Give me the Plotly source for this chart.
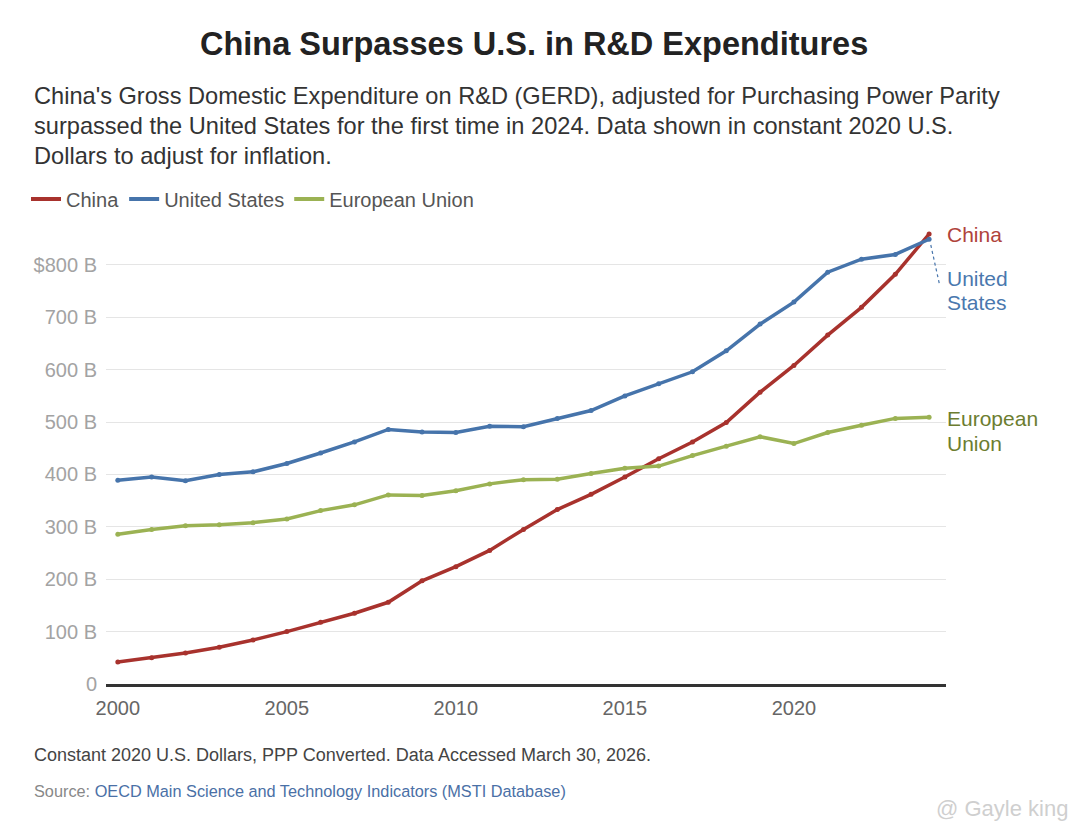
import plotly.graph_objects as go

# data (billions, constant 2020 USD, PPP)
years = list(range(2000, 2025))
china = [42, 50, 59, 70, 84, 100, 118, 135, 156, 197, 224, 255, 295,
         333, 362, 395, 430, 462, 499, 557, 608, 666, 719, 782, 859]
usa = [389, 395, 388, 400, 405, 421, 441, 462, 486, 481, 480, 492, 491,
       507, 522, 550, 573, 596, 636, 687, 729, 786, 811, 820, 849]
eu = [286, 295, 302, 304, 308, 315, 331, 342, 361, 360, 369, 382, 390,
      391, 402, 412, 416, 436, 454, 472, 459, 480, 494, 507, 509]

ytick_vals = [0, 100, 200, 300, 400, 500, 600, 700, 800]
ytick_text = ["0", "100 B", "200 B", "300 B", "400 B", "500 B", "600 B", "700 B", "$800 B"]
xtick_vals = [2000, 2005, 2010, 2015, 2020]

RED = "#a8322d"
BLUE = "#4674ab"
GREEN = "#9bb253"
FONT = "Liberation Sans, Arial, sans-serif"

W, H = 1084, 834
OFF = 8  # page body margin
ML, MR, MT, MB = 98, 146, 215, 158


def px(x):
    return (x - OFF - ML) / (W - ML - MR)


def py(y):
    return (H - MB - (y - OFF)) / (H - MT - MB)


fig = go.Figure()

series = [("China", china, RED), ("United States", usa, BLUE), ("European Union", eu, GREEN)]
for name, vals, col in series:
    fig.add_trace(go.Scatter(x=years, y=vals, mode="lines+markers", name=name,
                             line=dict(color=col, width=3.5), marker=dict(color=col, size=5),
                             showlegend=False, cliponaxis=False, hoverinfo="x+y"))
# legend-only entries (line swatches without markers)
for name, vals, col in series:
    fig.add_trace(go.Scatter(x=[None], y=[None], mode="lines", name=name,
                             line=dict(color=col, width=4)))

ann = []
ann.append(dict(text="<b>China Surpasses U.S. in R&D Expenditures</b>", x=px(534), y=py(44),
                xanchor="center", yanchor="middle", font=dict(size=32.5, color="#222")))
sub = ["China's Gross Domestic Expenditure on R&D (GERD), adjusted for Purchasing Power Parity",
       "surpassed the United States for the first time in 2024. Data shown in constant 2020 U.S.",
       "Dollars to adjust for inflation."]
for i, line in enumerate(sub):
    ann.append(dict(text=line, x=px(32), y=py(96 + 30 * i), xanchor="left", yanchor="middle",
                    font=dict(size=23.6, color="#333")))
ann.append(dict(text="China", x=px(945), y=py(234), xanchor="left", yanchor="middle",
                font=dict(size=21, color="#b0433b")))
ann.append(dict(text="United", x=px(945), y=py(278), xanchor="left", yanchor="middle",
                font=dict(size=21, color="#4a78ae")))
ann.append(dict(text="States", x=px(945), y=py(302), xanchor="left", yanchor="middle",
                font=dict(size=21, color="#4a78ae")))
ann.append(dict(text="European", x=px(945), y=py(418), xanchor="left", yanchor="middle",
                font=dict(size=21, color="#6c7d30")))
ann.append(dict(text="Union", x=px(945), y=py(443), xanchor="left", yanchor="middle",
                font=dict(size=21, color="#6c7d30")))
ann.append(dict(text="Constant 2020 U.S. Dollars, PPP Converted. Data Accessed March 30, 2026.",
                x=px(32), y=py(755), xanchor="left", yanchor="middle",
                font=dict(size=18, color="#444")))
ann.append(dict(text="Source: <span style='color:#4a70a6'>OECD Main Science and Technology Indicators (MSTI Database)</span>",
                x=px(32), y=py(791), xanchor="left", yanchor="middle",
                font=dict(size=16.3, color="#888")))
ann.append(dict(text="@ Gayle king", x=px(1070), y=py(808), xanchor="right", yanchor="middle",
                font=dict(size=22, color="#cfcfcf")))
for a in ann:
    a.update(xref="paper", yref="paper", showarrow=False, font=dict(family=FONT, **a["font"]))

fig.update_layout(
    width=W, height=H,
    margin=dict(l=ML, r=MR, t=MT, b=MB),
    paper_bgcolor="white", plot_bgcolor="white",
    font=dict(family=FONT),
    annotations=ann,
    showlegend=True,
    legend=dict(orientation="h", x=px(26), y=py(199), xanchor="left", yanchor="middle",
                font=dict(size=20, color="#555"), itemwidth=30, tracegroupgap=0,
                bgcolor="rgba(0,0,0,0)"),
    shapes=[dict(type="line", xref="x", yref="y", x0=2024.05, y0=838, x1=2024.3, y1=765,
                 line=dict(color=BLUE, width=1.2, dash="dot"))],
    xaxis=dict(range=[1999.65, 2024.5], tickvals=xtick_vals, showgrid=False, zeroline=False,
               showline=True, linecolor="#333", linewidth=2.5, ticks="",
               tickfont=dict(size=20, color="#666"), ticklabelstandoff=4),
    yaxis=dict(range=[0, 880], tickvals=ytick_vals, ticktext=ytick_text, showgrid=True,
               gridcolor="#e5e5e5", gridwidth=1, zeroline=False, showline=False, ticks="",
               tickfont=dict(size=20, color="#a3a3a3"), ticklabelstandoff=8),
)

fig.write_html("out.html")
